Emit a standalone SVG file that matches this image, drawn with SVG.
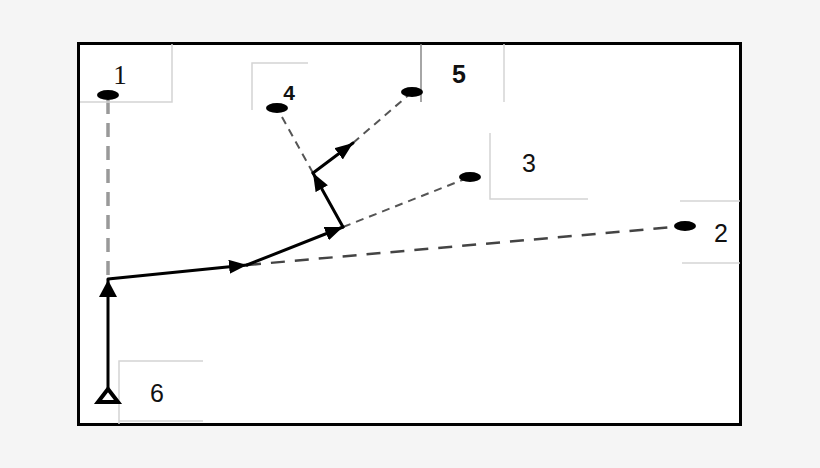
<svg xmlns="http://www.w3.org/2000/svg" width="820" height="468" viewBox="0 0 820 468">
<style>
.lbl{fill:none;stroke:#d4d4d4;stroke-width:1.5}
.num{font-family:"Liberation Sans",Arial,sans-serif;font-size:25px;fill:#111;text-anchor:middle}
.dot{fill:#000}
.sol{fill:none;stroke:#000;stroke-width:3;stroke-linecap:round}
.dsh{fill:none;stroke:#555;stroke-width:2;stroke-dasharray:8 6}
</style>
<defs>
<marker id="ah" markerUnits="userSpaceOnUse" markerWidth="20" markerHeight="16" refX="18" refY="7" orient="auto"><path d="M0,0 L18,7 L0,14 z" fill="#000"/></marker>
<marker id="ahb" markerUnits="userSpaceOnUse" markerWidth="20" markerHeight="20" refX="17" refY="9" orient="auto"><path d="M0,0 L17,9 L0,18 z" fill="#000"/></marker>
</defs>
<rect width="820" height="468" fill="#f5f5f5"/>
<rect x="78.5" y="43.5" width="662" height="381" fill="#fff" stroke="#000" stroke-width="3"/>
<g id="connectors">
<line x1="108" y1="100" x2="108" y2="279" stroke="#999" stroke-width="3.5" stroke-dasharray="14 9"/>
<line x1="247" y1="265" x2="685" y2="226" stroke="#444" stroke-width="2.5" stroke-dasharray="14 10"/>
<line x1="343" y1="227" x2="470" y2="177" class="dsh"/>
<line x1="313" y1="173" x2="277" y2="108" class="dsh"/>
<line x1="353" y1="143" x2="412" y2="92" class="dsh"/>
<line x1="108" y1="388" x2="108" y2="280" class="sol" stroke-width="2.2" marker-end="url(#ahb)"/>
<line x1="108" y1="279" x2="247" y2="265" class="sol" marker-end="url(#ah)"/>
<line x1="247" y1="265" x2="343" y2="227" class="sol" marker-end="url(#ah)"/>
<line x1="343" y1="227" x2="313" y2="173" class="sol" marker-end="url(#ah)"/>
<line x1="313" y1="173" x2="353" y2="143" class="sol" marker-end="url(#ah)"/>
</g>
<g id="node1">
<polyline class="lbl" points="80,102 172,102 172,44"/>
<ellipse class="dot" cx="108" cy="95" rx="11" ry="5"/>
<text x="120" y="84" class="num" style="font-family:'Liberation Serif',serif;font-size:27px">1</text>
</g>
<g id="node2">
<line class="lbl" x1="680" y1="201" x2="740" y2="201"/>
<line class="lbl" x1="682" y1="263" x2="740" y2="263"/>
<ellipse class="dot" cx="685" cy="226" rx="11" ry="5"/>
<text x="721" y="242" class="num">2</text>
</g>
<g id="node3">
<polyline class="lbl" points="490,133 490,199 588,199"/>
<ellipse class="dot" cx="470" cy="177" rx="11" ry="5"/>
<text x="529" y="172" class="num">3</text>
</g>
<g id="node4">
<polyline class="lbl" points="252,110 252,63 308,63"/>
<ellipse class="dot" cx="277" cy="108" rx="11" ry="5"/>
<text x="289" y="100" class="num" style="font-size:21px;font-weight:bold">4</text>
</g>
<g id="node5">
<line x1="421" y1="44" x2="421" y2="102" stroke="#888" stroke-width="1.5"/>
<line class="lbl" x1="504" y1="44" x2="504" y2="102"/>
<ellipse class="dot" cx="412" cy="92" rx="11" ry="5"/>
<text x="459" y="83" class="num" style="font-weight:bold">5</text>
</g>
<g id="node6">
<polyline class="lbl" points="203,361 119,361 119,424"/>
<line class="lbl" x1="119" y1="421" x2="203" y2="421"/>
<polygon points="108,389 98,402 118,402" fill="#fff" stroke="#000" stroke-width="4" stroke-linejoin="miter"/>
<text x="157" y="402" class="num">6</text>
</g>
</svg>
